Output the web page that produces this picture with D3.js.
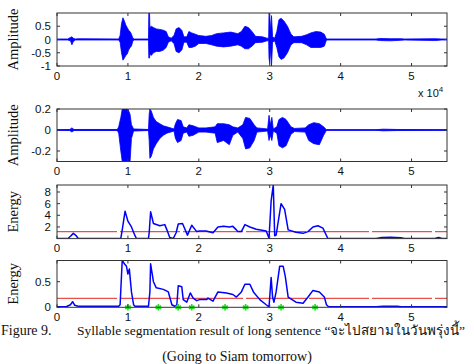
<!DOCTYPE html>
<html><head><meta charset="utf-8">
<script src="https://cdn.jsdelivr.net/npm/d3@7"></script>
<style>
html,body{margin:0;padding:0;background:#fff;}
svg{display:block;}
</style></head>
<body>
<svg id="c" width="474" height="364"></svg>
<script>
// ---- data (sample index) ----
const xTicks = [0, 10000, 20000, 30000, 40000, 50000];
const xTickLabels = ["0", "1", "2", "3", "4", "5"];

// Panel 1: original waveform envelope [sample, upper, lower]
const wave1X   = [0,1500,1900,2100,2300,2600,3000,8700,8900,9100,9300,9500,9700,9900,10100,10300,10500,10700,10900,12900,12950,13050,13100,13300,13600,14000,14500,15000,15400,15700,16100,16500,16800,17200,17600,17900,18300,18600,19000,19500,20000,21000,21800,22500,23500,24500,25500,26000,26500,27000,27500,28000,29000,29600,29850,29900,30000,30150,30250,30400,30700,31000,31300,31600,32000,32500,33000,33400,34500,35200,35800,36500,37200,37700,38000,45000,45500,47000,48500,49000,53400,54200,55000];
const wave1Top = [0.02,0.02,0.08,0.1,0.05,0.02,0.03,0.02,0.15,0.6,0.82,0.7,0.55,0.45,0.35,0.3,0.2,0.05,0.02,0.02,1.0,1.0,0.45,0.5,0.45,0.4,0.38,0.35,0.3,0.1,0.05,0.15,0.4,0.45,0.35,0.1,0.1,0.3,0.25,0.2,0.15,0.12,0.15,0.22,0.25,0.28,0.22,0.3,0.5,0.45,0.3,0.12,0.1,0.05,0.05,1.0,0.9,0.3,0.9,0.1,0.05,0.3,0.75,0.8,0.7,0.5,0.2,0.1,0.12,0.18,0.25,0.3,0.28,0.2,0.02,0.02,0.04,0.03,0.03,0.02,0.03,0.02,0.02];
const wave1Bot = [-0.02,-0.02,-0.05,-0.2,-0.08,-0.02,-0.02,-0.02,-0.1,-0.5,-0.78,-0.7,-0.6,-0.55,-0.4,-0.3,-0.25,-0.05,-0.02,-0.02,-0.7,-0.7,-0.55,-0.6,-0.5,-0.45,-0.45,-0.4,-0.3,-0.1,-0.05,-0.15,-0.45,-0.5,-0.4,-0.1,-0.1,-0.3,-0.3,-0.25,-0.15,-0.15,-0.2,-0.25,-0.28,-0.25,-0.2,-0.25,-0.35,-0.35,-0.25,-0.12,-0.1,-0.05,-0.05,-0.7,-0.9,-0.3,-1.0,-0.1,-0.05,-0.3,-0.65,-0.75,-0.7,-0.5,-0.2,-0.12,-0.12,-0.2,-0.3,-0.3,-0.3,-0.25,-0.02,-0.02,-0.04,-0.05,-0.03,-0.02,-0.04,-0.02,-0.02];

// Panel 2: filtered waveform envelope
const wave2X   = [0,1800,2100,2400,8500,8700,9000,9200,9600,10000,10300,10500,10800,12900,13000,13100,13300,13600,14000,14500,15000,15500,16500,16700,17000,17500,17800,18300,18600,19200,20000,21000,22300,22600,23500,24300,24800,25500,26200,26600,27200,27800,28200,29700,29900,30100,30300,30500,31000,31300,31800,32300,33000,33500,35000,35500,36200,37000,37600,38000,45000,46000,48000,55000];
const wave2Top = [0.003,0.005,0.02,0.005,0.005,0.03,0.12,0.2,0.2,0.2,0.15,0.05,0.01,0.005,0.15,0.2,0.18,0.12,0.08,0.06,0.04,0.03,0.01,0.06,0.1,0.09,0.03,0.02,0.05,0.04,0.02,0.02,0.03,0.06,0.06,0.05,0.03,0.02,0.05,0.12,0.11,0.05,0.02,0.01,0.14,0.05,0.12,0.01,0.03,0.1,0.12,0.1,0.03,0.015,0.02,0.05,0.07,0.06,0.03,0.003,0.003,0.008,0.005,0.003];
const wave2Bot = [-0.003,-0.005,-0.02,-0.005,-0.005,-0.03,-0.2,-0.3,-0.3,-0.3,-0.3,-0.08,-0.01,-0.005,-0.1,-0.27,-0.25,-0.18,-0.13,-0.08,-0.05,-0.03,-0.01,-0.08,-0.12,-0.1,-0.03,-0.02,-0.06,-0.05,-0.02,-0.02,-0.03,-0.12,-0.1,-0.14,-0.05,-0.02,-0.08,-0.18,-0.17,-0.1,-0.02,-0.01,-0.1,-0.05,-0.1,-0.01,-0.03,-0.15,-0.17,-0.15,-0.04,-0.015,-0.02,-0.1,-0.13,-0.14,-0.05,-0.003,-0.003,-0.008,-0.005,-0.003];

// Panel 3: energy of original
const energy1X = [0,1550,1900,2300,2700,3000,9000,9200,9600,10000,10500,11000,11200,12900,13000,13200,13600,14500,15200,15500,15900,16400,16800,17100,17700,18400,19000,19700,20100,21000,22000,22700,23500,24300,24800,25300,25500,26000,26500,27200,28100,29500,29900,30200,30500,30700,30900,31600,32100,32600,33700,34700,35400,36100,36800,37500,38200,45000,45800,47000,48500,49000,53300,53800,54300,55000];
const energy1Y = [0.02,0.02,0.4,0.9,0.5,0.02,0.02,1.5,4.7,3.0,2.0,0.5,0.02,0.02,1.0,4.6,2.6,2.2,2.4,1.5,0.2,0.02,1.0,2.5,2.6,0.6,2.3,1.2,1.3,1.3,1.0,2.0,2.1,2.0,2.1,1.5,1.2,1.2,2.4,2.0,1.6,1.3,0.05,6.5,9.2,0.5,0.6,6.0,5.0,1.5,1.1,0.9,1.2,2.0,2.2,1.8,0.02,0.02,0.2,0.25,0.15,0.02,0.02,0.2,0.02,0.02];
const threshold1 = 1.2;

// Panel 4: energy of filtered
const energy2X = [0,1300,1900,2200,2500,3000,8700,8900,9200,9500,9800,10000,10200,10500,10800,11000,12900,13100,13200,13600,14000,15000,15700,16200,16600,16900,17100,17600,17800,18300,18800,19200,19700,20100,21100,21300,22000,22700,23900,24800,25300,26000,26500,27200,27700,28600,29500,29900,30200,30400,30600,30900,31400,31900,32200,32600,33700,34700,35400,36100,37000,37700,38000,38300,45000,46000,48000,48500,55000];
const energy2Y = [0.01,0.01,0.05,0.11,0.04,0.02,0.02,0.05,0.92,0.85,0.8,0.65,0.75,0.3,0.05,0.02,0.02,0.3,0.85,0.5,0.38,0.35,0.3,0.05,0.02,0.05,0.42,0.4,0.15,0.1,0.28,0.18,0.13,0.15,0.15,0.18,0.12,0.3,0.28,0.25,0.2,0.3,0.45,0.45,0.3,0.15,0.05,0.01,0.58,0.2,0.1,0.3,0.8,0.8,0.6,0.2,0.1,0.08,0.2,0.33,0.3,0.2,0.05,0.01,0.01,0.02,0.02,0.01,0.01];
const threshold2 = 0.175;
const markersX = [10000, 14300, 17100, 19000, 23700, 26600, 31600, 36400];

const yTicks1 = [-1, -0.5, 0, 0.5], yTickLabels1 = ["-1","-0.5","0","0.5"];
const yTicks2 = [-0.2, 0, 0.2], yTickLabels2 = ["-0.2","0","0.2"];
const yTicks3 = [2, 4, 6, 8], yTickLabels3 = ["2","4","6","8"];
const yTicks4 = [0, 0.5], yTickLabels4 = ["0","0.5"];

// ---- drawing ----
const svg = d3.select("#c");
const L = 57, R = 447;
const x = d3.scaleLinear().domain([0, 55000]).range([L, R]);
const blue = "#0000ff";

const panels = [
  {top:13, bot:66, dom:[-1,1], ticks:yTicks1, labels:yTickLabels1, ylabel:"Amplitude"},
  {top:109, bot:161.5, dom:[-0.3,0.2], ticks:yTicks2, labels:yTickLabels2, ylabel:"Amplitude"},
  {top:185, bot:238.6, dom:[0,9.2], ticks:yTicks3, labels:yTickLabels3, ylabel:"Energy"},
  {top:260.5, bot:307.3, dom:[0,0.914], ticks:yTicks4, labels:yTickLabels4, ylabel:"Energy"}
];

panels.forEach((p, i) => {
  p.y = d3.scaleLinear().domain(p.dom).range([p.bot, p.top]);
  const g = svg.append("g");
  svg.append("clipPath").attr("id","cp"+i).append("rect")
    .attr("x", L).attr("y", p.top).attr("width", R-L).attr("height", p.bot-p.top);
  p.g = g;
  p.plot = g.append("g").attr("clip-path", `url(#cp${i})`);
});

// waveforms
function drawWave(p, xs, tops, bots) {
  const data = xs.map((v, k) => ({x:v, t:tops[k], b:bots[k]}));
  p.plot.append("line").attr("x1", L).attr("x2", R)
    .attr("y1", p.y(0)).attr("y2", p.y(0)).attr("stroke", blue).attr("stroke-width", 1);
  p.plot.append("path").datum(data)
    .attr("d", d3.area().x(d => x(d.x)).y0(d => p.y(d.b)).y1(d => p.y(d.t)))
    .attr("fill", blue).attr("stroke", blue).attr("stroke-width", 0.8);
}
drawWave(panels[0], wave1X, wave1Top, wave1Bot);
drawWave(panels[1], wave2X, wave2Top, wave2Bot);

function drawEnergy(p, xs, ys, thr) {
  p.plot.append("line").attr("x1", L).attr("x2", R)
    .attr("y1", p.y(thr)).attr("y2", p.y(thr))
    .attr("stroke", "#e8504a").attr("stroke-width", 1.3)
    .attr("stroke-dasharray", "60,3");
  const data = xs.map((v, k) => [v, ys[k]]);
  p.plot.append("path").datum(data)
    .attr("d", d3.line().x(d => x(d[0])).y(d => p.y(d[1])))
    .attr("fill", "none").attr("stroke", blue).attr("stroke-width", 1.5)
    .attr("stroke-linejoin", "round");
}
drawEnergy(panels[2], energy1X, energy1Y, threshold1);
drawEnergy(panels[3], energy2X, energy2Y, threshold2);

// markers
panels[3].g.selectAll(".mk").data(markersX).enter().append("path")
  .attr("transform", d => `translate(${x(d)},${panels[3].y(0)})`)
  .attr("d", d3.symbol(d3.symbolAsterisk, 28)())
  .attr("fill", "none").attr("stroke", "#22dd22").attr("stroke-width", 1.6);

// axes/frames
panels.forEach(p => {
  const g = p.g;
  const tl = 3;
  g.append("rect").attr("x", L).attr("y", p.top).attr("width", R-L).attr("height", p.bot-p.top)
    .attr("fill", "none").attr("stroke", "#333").attr("stroke-width", 1);
  xTicks.forEach((t, k) => {
    const xx = x(t);
    g.append("line").attr("x1", xx).attr("x2", xx).attr("y1", p.bot).attr("y2", p.bot-tl).attr("stroke", "#333");
    g.append("line").attr("x1", xx).attr("x2", xx).attr("y1", p.top).attr("y2", p.top+tl).attr("stroke", "#333");
    g.append("text").attr("x", xx).attr("y", p.bot + 13.5).attr("text-anchor", "middle")
      .attr("font-family", "Liberation Sans, Arial, sans-serif").attr("font-size", 11.5).attr("fill", "#111")
      .text(xTickLabels[k]);
  });
  p.ticks.forEach((t, k) => {
    const yy = p.y(t);
    g.append("line").attr("x1", L).attr("x2", L+tl).attr("y1", yy).attr("y2", yy).attr("stroke", "#333");
    g.append("line").attr("x1", R).attr("x2", R-tl).attr("y1", yy).attr("y2", yy).attr("stroke", "#333");
    g.append("text").attr("x", 51).attr("y", yy + 4).attr("text-anchor", "end")
      .attr("font-family", "Liberation Sans, Arial, sans-serif").attr("font-size", 11.5).attr("fill", "#111")
      .text(p.labels[k]);
  });
  const cy = (p.top + p.bot) / 2;
  g.append("text").attr("transform", `translate(18,${cy}) rotate(-90)`).attr("text-anchor", "middle")
    .attr("font-family", "Liberation Serif, Times New Roman, serif").attr("font-size", 14.5).attr("fill", "#111")
    .text(p.ylabel);
});

// exponent label
const ex = svg.append("text").attr("x", 418).attr("y", 97)
  .attr("font-family", "Liberation Sans, Arial, sans-serif").attr("font-size", 11).attr("fill", "#111");
ex.append("tspan").text("x 10");
ex.append("tspan").attr("dy", -5).attr("font-size", 8).text("4");

// caption
const capFont = "Liberation Serif, Times New Roman, serif";
svg.append("text").attr("x", 1).attr("y", 335).attr("font-family", capFont).attr("font-size", 14).attr("fill", "#111")
  .text("Figure 9.");
svg.append("text").attr("x", 77).attr("y", 335).attr("font-family", capFont).attr("font-size", 13.5).attr("fill", "#111")
  .attr("textLength", 388).attr("lengthAdjust", "spacingAndGlyphs")
  .text("Syllable segmentation result of long sentence “จะไปสยามในวันพรุ่งนี้”");
svg.append("text").attr("x", 237).attr("y", 361).attr("text-anchor", "middle").attr("font-family", capFont).attr("font-size", 14).attr("fill", "#111")
  .text("(Going to Siam tomorrow)");
</script>
</body></html>
